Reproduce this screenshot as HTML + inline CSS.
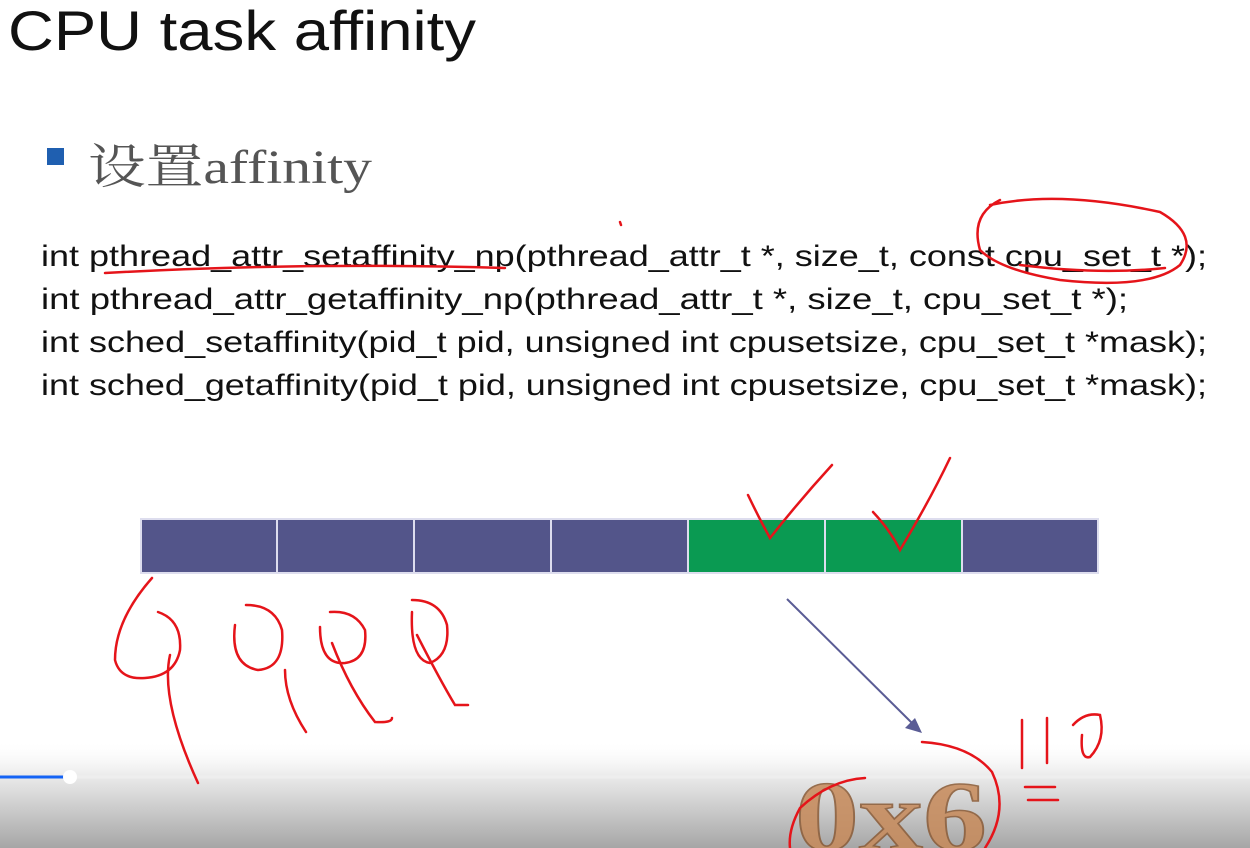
<!DOCTYPE html>
<html><head><meta charset="utf-8"><style>
html,body{margin:0;padding:0;background:#fff;}
body{width:1250px;height:848px;overflow:hidden;position:relative;}
svg{position:absolute;left:0;top:0;}
</style></head><body>
<svg width="1250" height="848" viewBox="0 0 1250 848">
<defs>
<linearGradient id="g" x1="0" y1="0" x2="0" y2="1">
<stop offset="0" stop-color="#fff" stop-opacity="0"/>
<stop offset="0.3" stop-color="#eee"/>
<stop offset="1" stop-color="#a6a6a6"/>
</linearGradient>
</defs>
<text x="8" y="50" font-family="Liberation Sans, sans-serif" font-size="56" fill="#111" textLength="468" lengthAdjust="spacingAndGlyphs">CPU task affinity</text>
<rect x="47" y="148" width="17" height="17" fill="#1f5fb0"/>
<text x="88" y="183" font-family="Liberation Serif, 'Noto Serif CJK SC', serif" font-size="48" fill="#555" textLength="284" lengthAdjust="spacingAndGlyphs">设置affinity</text>
<g font-family="Liberation Sans, sans-serif" font-size="30" fill="#111">
<text x="41" y="266" textLength="1166" lengthAdjust="spacingAndGlyphs">int pthread_attr_setaffinity_np(pthread_attr_t *, size_t, const cpu_set_t *);</text>
<text x="41" y="309" textLength="1087" lengthAdjust="spacingAndGlyphs">int pthread_attr_getaffinity_np(pthread_attr_t *, size_t, cpu_set_t *);</text>
<text x="41" y="352" textLength="1166" lengthAdjust="spacingAndGlyphs">int sched_setaffinity(pid_t pid, unsigned int cpusetsize, cpu_set_t *mask);</text>
<text x="41" y="395" textLength="1166" lengthAdjust="spacingAndGlyphs">int sched_getaffinity(pid_t pid, unsigned int cpusetsize, cpu_set_t *mask);</text>
</g>
<g stroke="#dde" stroke-width="2">
<rect x="141" y="519" width="136" height="54" fill="#53558a"/>
<rect x="277" y="519" width="137" height="54" fill="#53558a"/>
<rect x="414" y="519" width="137" height="54" fill="#53558a"/>
<rect x="551" y="519" width="137" height="54" fill="#53558a"/>
<rect x="688" y="519" width="137" height="54" fill="#0a9a52"/>
<rect x="825" y="519" width="137" height="54" fill="#0a9a52"/>
<rect x="962" y="519" width="136" height="54" fill="#53558a"/>
</g>
<line x1="787" y1="599" x2="915" y2="726" stroke="#5a5c95" stroke-width="2"/>
<polygon points="922,733 905,728 915,718" fill="#5a5c95"/>
<rect x="0" y="740" width="1250" height="108" fill="url(#g)"/>
<line x1="0" y1="777" x2="1250" y2="777" stroke="#eee" stroke-width="3"/>
<line x1="0" y1="777" x2="70" y2="777" stroke="#1463f5" stroke-width="3"/>
<circle cx="70" cy="777" r="7" fill="#fff"/>
<text x="795" y="850" font-family="Liberation Serif, serif" font-weight="bold" font-size="100" fill="#c78a5a" stroke="#8a5a35" stroke-width="1.5" opacity="0.85" textLength="192" lengthAdjust="spacingAndGlyphs">0x6</text>
<g fill="none" stroke="#e5141a" stroke-width="2.5" stroke-linecap="round">
<path d="M105 273 Q300 262 505 268"/>
<path d="M1020 265 Q1100 275 1165 268"/>
<path d="M620 222 l1 3"/>
<path d="M990 205 Q1060 190 1160 212 Q1200 235 1180 265 Q1150 290 1060 280 Q1000 270 980 250 Q970 215 1000 200"/>
<path d="M748 495 Q760 520 770 538 Q800 500 832 465"/>
<path d="M873 512 Q890 530 900 550 Q930 500 950 458"/>
<path d="M152 578 Q115 620 115 660 Q120 680 145 678 Q175 676 180 650 Q182 620 158 612"/>
<path d="M170 655 Q160 700 198 783"/>
<path d="M235 625 Q230 665 258 670 Q285 668 282 630 Q275 605 246 605"/>
<path d="M285 670 Q285 700 306 732"/>
<path d="M320 627 Q320 665 345 663 Q368 660 365 630 Q355 610 330 612"/>
<path d="M332 643 Q350 690 375 722 Q392 723 392 718"/>
<path d="M412 612 Q410 660 430 663 Q450 655 447 625 Q440 600 412 600"/>
<path d="M417 635 Q440 680 455 705 L468 705"/>
<path d="M922 742 Q970 745 992 772 Q1010 810 985 848"/>
<path d="M865 778 Q830 780 800 808 Q788 830 790 848"/>
<path d="M1022 720 L1022 768 M1047 718 L1047 763"/>
<path d="M1073 725 Q1085 712 1100 715 Q1106 740 1090 757 Q1080 760 1082 735"/>
<path d="M1025 787 L1055 787 M1028 800 L1058 800"/>
</g>
</svg>
</body></html>
